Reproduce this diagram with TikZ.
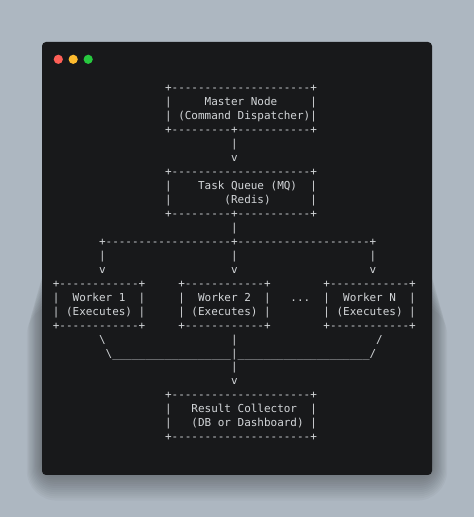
\documentclass[tikz,border=0pt]{standalone}
\usepackage{fontspec}
\setmonofont{DejaVu Sans Mono}
\definecolor{bgc}{HTML}{ADB7C1}
\definecolor{winc}{HTML}{18191B}
\definecolor{txtc}{HTML}{D2D5D8}
\definecolor{redc}{HTML}{FE5F57}
\definecolor{yelc}{HTML}{FEBB2E}
\definecolor{grnc}{HTML}{27C83F}
\ExplSyntaxOn
\cs_new:Npn \rpt #1#2 { \prg_replicate:nn {#1} {#2} }
\ExplSyntaxOff
\newcommand\asciirow[4]{\node[asc] (#1) at ({52.7+#3*6.6},{517-91.8-#2*13.96}) {#4};}
\begin{document}
\begin{tikzpicture}[x=1pt,y=1pt,
  asc/.style={anchor=base west, inner sep=0pt, text=txtc,
    font=\ttfamily\fontsize{10.96}{13.96}\selectfont},
  light/.style={circle, inner sep=0pt, minimum size=9.2pt}]
\useasboundingbox (0,0) rectangle (474,517);
\fill[bgc] (0,0) rectangle (474,517);
% soft shadow, mostly below the window
\foreach \k in {1,...,16}{
  \pgfmathsetmacro\rr{6+1.5*\k}
  \fill[black, opacity=0.028, rounded corners=\rr pt]
    ({46-1.2*\k},{50-2.1*\k}) rectangle ({428+1.2*\k},{260-3*\k});
}
% window
\fill[winc, rounded corners=4pt] (42,42) rectangle (432,475);
\node[light, fill=redc] (red) at (58.3,457.7) {};
\node[light, fill=yelc] (yel) at (73.2,457.7) {};
\node[light, fill=grnc] (grn) at (88.2,457.7) {};
% ascii diagram
\asciirow{r0}{0}{17}{+\rpt{21}{-}+}
\asciirow{r1}{1}{17}{|\rpt{5}{~}Master~Node\rpt{5}{~}|}
\asciirow{r2}{2}{17}{|~(Command~Dispatcher)|}
\asciirow{r3}{3}{17}{+\rpt{9}{-}+\rpt{11}{-}+}
\asciirow{r4}{4}{27}{|}
\asciirow{r5}{5}{27}{v}
\asciirow{r6}{6}{17}{+\rpt{21}{-}+}
\asciirow{r7}{7}{17}{|\rpt{4}{~}Task~Queue~(MQ)~~|}
\asciirow{r8}{8}{17}{|\rpt{8}{~}(Redis)\rpt{6}{~}|}
\asciirow{r9}{9}{17}{+\rpt{9}{-}+\rpt{11}{-}+}
\asciirow{r10}{10}{27}{|}
\asciirow{r11}{11}{7}{+\rpt{19}{-}+\rpt{20}{-}+}
\asciirow{r12}{12}{7}{|\rpt{19}{~}|\rpt{20}{~}|}
\asciirow{r13}{13}{7}{v\rpt{19}{~}v\rpt{20}{~}v}
\asciirow{r14}{14}{0}{+\rpt{12}{-}+\rpt{5}{~}+\rpt{12}{-}+\rpt{8}{~}+\rpt{12}{-}+}
\asciirow{r15}{15}{0}{|~~Worker~1~~|\rpt{5}{~}|~~Worker~2~~|~~~...~~|~~Worker~N~~|}
\asciirow{r16}{16}{0}{|~(Executes)~|\rpt{5}{~}|~(Executes)~|\rpt{8}{~}|~(Executes)~|}
\asciirow{r17}{17}{0}{+\rpt{12}{-}+\rpt{5}{~}+\rpt{12}{-}+\rpt{8}{~}+\rpt{12}{-}+}
\asciirow{r18}{18}{7}{\textbackslash\rpt{19}{~}|\rpt{21}{~}/}
\asciirow{r19}{19}{8}{\textbackslash\rpt{18}{\_}|\rpt{20}{\_}/}
\asciirow{r20}{20}{27}{|}
\asciirow{r21}{21}{27}{v}
\asciirow{r22}{22}{17}{+\rpt{21}{-}+}
\asciirow{r23}{23}{17}{|~~~Result~Collector~~|}
\asciirow{r24}{24}{17}{|~~~(DB~or~Dashboard)~|}
\asciirow{r25}{25}{17}{+\rpt{21}{-}+}
\end{tikzpicture}
\end{document}
